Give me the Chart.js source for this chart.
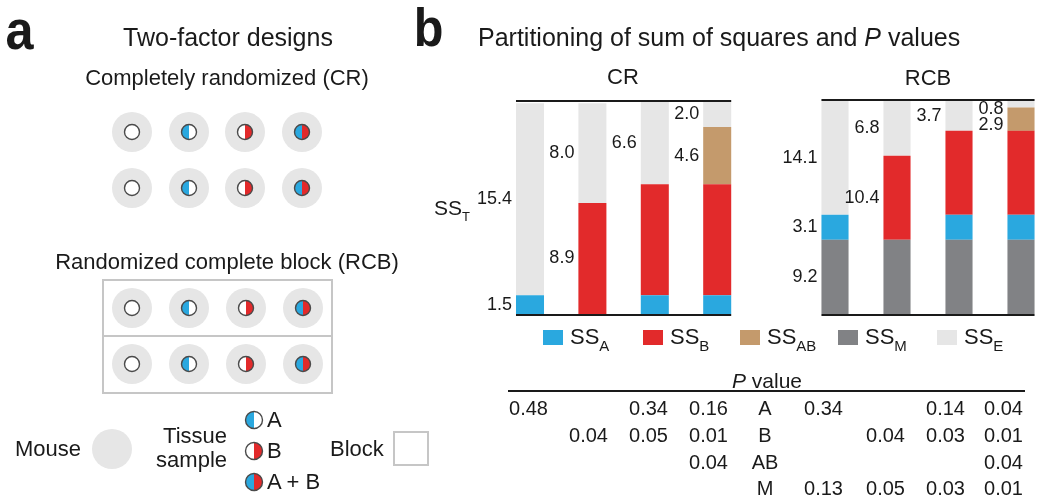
<!DOCTYPE html>
<html><head><meta charset="utf-8">
<script src="https://cdn.jsdelivr.net/npm/chart.js@4.4.1/dist/chart.umd.min.js"></script>
<style>
html,body{margin:0;padding:0;background:#fff;}
body{width:1050px;height:500px;overflow:hidden;position:relative;font-family:'Liberation Sans',Arial,Helvetica,sans-serif;color:#1a1a1a;}
.t{position:absolute;white-space:nowrap;line-height:1;}
.sub{position:relative;}
canvas{position:absolute;left:0;top:0;}
svg{position:absolute;left:0;top:0;}
</style></head>
<body>
<svg id="pa" width="440" height="500"></svg>
<canvas id="crChart" width="1070" height="500"></canvas>
<canvas id="rcbChart" width="1070" height="500"></canvas>
<script>
// ---------- DATA ----------
const categories = ['A', 'B', 'A + B', 'A + B + AB'];
const seriesNames = ['SS_M', 'SS_A', 'SS_B', 'SS_AB', 'SS_E'];
// Completely randomized (CR)
const crM  = [0, 0, 0, 0];
const crA  = [1.5, 0, 1.5, 1.5];
const crB  = [0, 8.9, 8.9, 8.9];
const crAB = [0, 0, 0, 4.6];
const crE  = [15.4, 8.0, 6.6, 2.0];
// Randomized complete block (RCB)
const rcbM  = [9.2, 9.2, 9.2, 9.2];
const rcbA  = [3.1, 0, 3.1, 3.1];
const rcbB  = [0, 10.4, 10.4, 10.4];
const rcbAB = [0, 0, 0, 2.9];
const rcbE  = [14.1, 6.8, 3.7, 0.8];
// P values table
const pRows = ['A', 'B', 'AB', 'M'];
const pCR  = [[0.48, null, 0.34, 0.16], [null, 0.04, 0.05, 0.01], [null, null, null, 0.04], [null, null, null, null]];
const pRCB = [[0.34, null, 0.14, 0.04], [null, 0.04, 0.03, 0.01], [null, null, null, 0.04], [0.13, 0.05, 0.03, 0.01]];

// ---------- STYLE ----------
const COL = {SS_M:'#818285', SS_A:'#2aa8df', SS_B:'#e22a2b', SS_AB:'#c49a6c', SS_E:'#e6e6e6'};
const BLUE = '#2aa8df', RED = '#e22a2b', MOUSE = '#e6e6e6', BOXC = '#c6c6c6';

// ---------- text helper ----------
function T(html, x, y, fs, align, extra) {
  const d = document.createElement('div');
  d.className = 't';
  d.innerHTML = html;
  d.style.fontSize = fs + 'px';
  d.style.left = x + 'px';
  d.style.top = y + 'px';
  const tx = align === 'center' ? '-50%' : align === 'right' ? '-100%' : '0';
  d.style.transform = 'translate(' + tx + ',-50%)' + (extra || '');
  document.body.appendChild(d);
  return d;
}
function ss(sub, fs, subfs, dy) {
  return 'SS<span class="sub" style="font-size:' + subfs + 'px;top:' + dy + 'px">' + sub + '</span>';
}

// ---------- PANEL A (schematic) ----------
(function () {
  const svg = document.getElementById('pa');
  let s = '';
  function sample(cx, cy, r, kind) {
    const lf = kind.indexOf('A') >= 0 ? BLUE : '#fff';
    const rf = kind.indexOf('B') >= 0 ? RED : '#fff';
    let o = '<path d="M' + cx + ' ' + (cy - r) + ' A' + r + ' ' + r + ' 0 0 0 ' + cx + ' ' + (cy + r) + ' Z" fill="' + lf + '"/>';
    o += '<path d="M' + cx + ' ' + (cy - r) + ' A' + r + ' ' + r + ' 0 0 1 ' + cx + ' ' + (cy + r) + ' Z" fill="' + rf + '"/>';
    o += '<circle cx="' + cx + '" cy="' + cy + '" r="' + r + '" fill="none" stroke="#4a4a4a" stroke-width="1.4"/>';
    return o;
  }
  const kinds = ['', 'A', 'B', 'AB'];
  const rows = [[132, [132, 189, 245, 302]], [188, [132, 189, 245, 302]], [308, [132, 189, 246, 303]], [364, [132, 189, 246, 303]]];
  rows.forEach(function (rw) {
    rw[1].forEach(function (x, i) {
      s += '<circle cx="' + x + '" cy="' + rw[0] + '" r="20" fill="' + MOUSE + '"/>';
      s += sample(x, rw[0], 7.5, kinds[i]);
    });
  });
  s += '<rect x="103" y="280" width="229" height="56" fill="none" stroke="' + BOXC + '" stroke-width="2"/>';
  s += '<rect x="103" y="336" width="229" height="57" fill="none" stroke="' + BOXC + '" stroke-width="2"/>';
  // legend
  s += '<circle cx="112" cy="449" r="20" fill="' + MOUSE + '"/>';
  s += sample(254, 420, 8.5, 'A');
  s += sample(254, 451, 8.5, 'B');
  s += sample(254, 482, 8.5, 'AB');
  s += '<rect x="394" y="432" width="34" height="33" fill="none" stroke="' + BOXC + '" stroke-width="2"/>';
  svg.innerHTML = s;
})();

// panel labels and titles
T('a', 4, 30, 56, 'left', ' scaleX(0.9)').style.fontWeight = 'bold';
T('b', 412, 27, 54, 'left', ' scaleX(0.9)').style.fontWeight = 'bold';
T('Two-factor designs', 228, 37, 25, 'center');
T('Completely randomized (CR)', 227, 78, 22, 'center');
T('Randomized complete block (RCB)', 227, 262, 22, 'center');
T('Mouse', 15, 449, 22, 'left');
T('Tissue', 227, 436, 22, 'right');
T('sample', 227, 460, 22, 'right');
T('A', 267, 420, 22, 'left');
T('B', 267, 451, 22, 'left');
T('A + B', 267, 482, 22, 'left');
T('Block', 330, 449, 22, 'left');

T('Partitioning of sum of squares and <i>P</i> values', 478, 37, 25, 'left');
T('CR', 623, 77, 22, 'center');
T('RCB', 928, 78, 22, 'center');
T(ss('T', 21, 13, 6), 434, 207, 21, 'left');

// legend of panel b
const legX = [543, 643, 740, 838, 937];
const legKeys = ['SS_A', 'SS_B', 'SS_AB', 'SS_M', 'SS_E'];
legKeys.forEach(function (k, i) {
  const sq = document.createElement('div');
  sq.style.cssText = 'position:absolute;left:' + legX[i] + 'px;top:330px;width:20px;height:15px;background:' + COL[k] + ';';
  document.body.appendChild(sq);
  T(ss(k.split('_')[1], 22, 15, 7), legX[i] + 27, 337, 22, 'left');
});

// P value table
T('<i>P</i> value', 767, 380, 21, 'center');
const rule = document.createElement('div');
rule.style.cssText = 'position:absolute;left:508px;top:390px;width:517px;height:2px;background:#1a1a1a;';
document.body.appendChild(rule);
const rowY = [408, 435, 462, 488];
const crColR = [548, 608, 668, 728];
const rcbColR = [843, 905, 965, 1023];
pRows.forEach(function (lab, r) {
  T(lab, 765, rowY[r], 20, 'center');
  pCR[r].forEach(function (v, c) { if (v !== null) T(v.toFixed(2), crColR[c], rowY[r], 20, 'right'); });
  pRCB[r].forEach(function (v, c) { if (v !== null) T(v.toFixed(2), rcbColR[c], rowY[r], 20, 'right'); });
});

// ---------- CHARTS ----------
const framePlugin = {
  id: 'frame',
  afterDatasetsDraw(chart) {
    const ctx = chart.ctx, ca = chart.chartArea;
    const meta = chart.getDatasetMeta(0);
    const first = meta.data[0], last = meta.data[meta.data.length - 1];
    const x0 = first.x - first.width / 2, x1 = last.x + last.width / 2;
    ctx.save();
    ctx.strokeStyle = '#1a1a1a';
    ctx.lineWidth = 2;
    ctx.beginPath();
    ctx.moveTo(x0, ca.top - 1); ctx.lineTo(x1, ca.top - 1);
    ctx.moveTo(x0, ca.bottom + 1); ctx.lineTo(x1, ca.bottom + 1);
    ctx.stroke();
    ctx.restore();
  }
};
const valueLabelPlugin = {
  id: 'valueLabels',
  afterDatasetsDraw(chart) {
    const ctx = chart.ctx, ca = chart.chartArea;
    const ds = chart.data.datasets;
    const seen = ds.map(() => []);
    ctx.save();
    ctx.font = '18px "Liberation Sans", Arial, sans-serif';
    ctx.fillStyle = '#1a1a1a';
    ctx.textAlign = 'right';
    ctx.textBaseline = 'middle';
    chart.data.labels.forEach(function (lab, i) {
      const items = [];
      ds.forEach(function (d, k) {
        const v = d.data[i];
        if (!v) return;
        if (seen[k].indexOf(v) >= 0) return;
        seen[k].push(v);
        const el = chart.getDatasetMeta(k).data[i];
        items.push({v: v, x: el.x - el.width / 2 - 4, y: Math.max((el.y + el.base) / 2, ca.top + 8)});
      });
      // keep labels from colliding: walk top-down and push lower ones down
      for (let j = items.length - 2; j >= 0; j--) {
        if (items[j].y - items[j + 1].y < 16) items[j].y = items[j + 1].y + 16;
      }
      items.forEach(function (it) { ctx.fillText(it.v.toFixed(1), it.x, it.y); });
    });
    ctx.restore();
  }
};
function makeChart(id, vals, ymax, left, right, top, bottom, barPct) {
  return new Chart(document.getElementById(id), {
    type: 'bar',
    data: {
      labels: categories,
      datasets: seriesNames.map(function (n, k) {
        return {label: n, data: vals[k], backgroundColor: COL[n], borderWidth: 0,
                barPercentage: barPct, categoryPercentage: 1};
      })
    },
    options: {
      responsive: false, animation: false, devicePixelRatio: 1,
      layout: {padding: {left: left, right: 1070 - right, top: top, bottom: 500 - bottom}},
      plugins: {legend: {display: false}, tooltip: {enabled: false}},
      scales: {
        x: {stacked: true, display: false, offset: true},
        y: {stacked: true, display: false, min: 0, max: ymax}
      }
    },
    plugins: [framePlugin, valueLabelPlugin]
  });
}
makeChart('crChart', [crM, crA, crB, crAB, crE], 17.0, 498.8, 748.4, 102, 314, 0.449);
makeChart('rcbChart', [rcbM, rcbA, rcbB, rcbAB, rcbE], 26.4, 804, 1052, 101, 314, 0.437);
</script>
</body></html>
